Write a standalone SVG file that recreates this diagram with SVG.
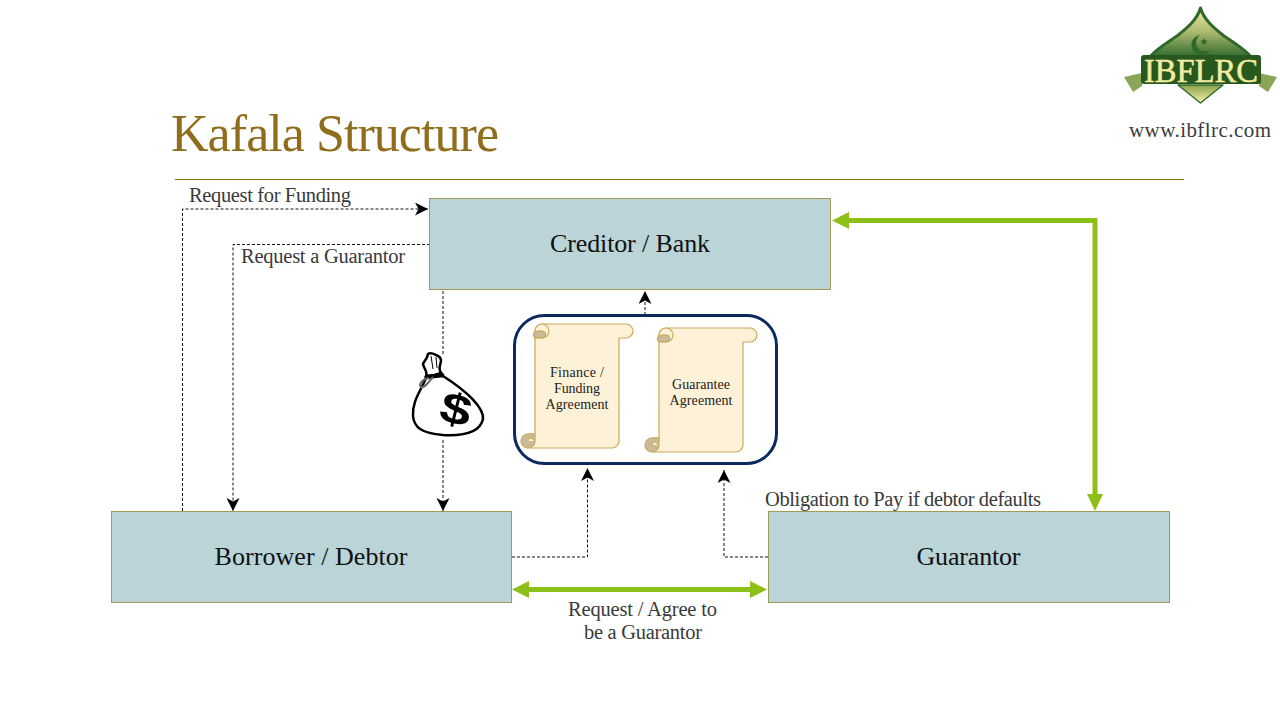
<svg xmlns="http://www.w3.org/2000/svg" xmlns:xlink="http://www.w3.org/1999/xlink" width="1280" height="720" viewBox="0 0 1280 720">
<style>
text{font-family:"Liberation Serif","Times New Roman",serif;fill:#3a3a3a}
.box{fill:#bad4d8;stroke:#a09a55;stroke-width:1}
.nl{font-size:26px;fill:#111;text-anchor:middle}
.cl{font-size:20.500px}
.sl{font-size:14px;fill:#222;text-anchor:middle}
.d{fill:none;stroke:#111;stroke-width:1;stroke-dasharray:3 2}
.g{fill:none;stroke:#8cc016;stroke-width:5}
.gh{fill:#8cc016}
.sc{fill:#fdf2d8;stroke:#c9a85a;stroke-width:1.200;stroke-linejoin:round}
.sd{fill:#c9bb98;stroke:#c9a85a;stroke-width:1.200}
</style>
<defs>
<marker id="a" markerWidth="14" markerHeight="14" refX="13" refY="6.500" orient="auto" markerUnits="userSpaceOnUse"><path d="M0 0L13 6.500L0 13L3.500 6.500Z" fill="#000"/></marker>
<linearGradient id="lg1" x1="0" y1="0" x2="0" y2="1"><stop offset="0" stop-color="#f2e9a0"/><stop offset=".5" stop-color="#a9b86e"/><stop offset="1" stop-color="#2f6a2c"/></linearGradient>
<linearGradient id="lg2" x1="0" y1="0" x2="0" y2="1"><stop offset="0" stop-color="#8aa24c"/><stop offset="1" stop-color="#f6f0a8"/></linearGradient>
<g id="scroll">
<path class="sc" d="M14 7A7 7 0 0 1 21 0H105A7 7 0 0 1 105 14H98V117A7 7 0 0 1 91 124H7V110H14Z"/>
<path class="sc" d="M14 7A7 7 0 0 1 21 0A7 7 0 0 1 21 14H14Z"/>
<path class="sd" d="M14 13.500A7 4 0 0 1 21 7A3.500 3.500 0 0 1 21 14Z"/>
<path class="sd" d="M14 110H7A7 7 0 0 0 7 124A7 7 0 0 0 14 117Z"/>
<path d="M7 117A3 3 0 0 1 10 114L14 117" fill="#fdf2d8" stroke="#c9a85a" stroke-width="1"/>
</g>
</defs>

<g id="title">
<text x="171" y="151" font-size="52" textLength="328" lengthAdjust="spacing" style="fill:#8f6d1a">Kafala Structure</text>
<path d="M175 179.500H1184" stroke="#8f7a10" stroke-width="1"/>
</g>

<g id="logo">
<path d="M1200.500 8C1204 20 1214 28 1224 36C1236 44 1246 50 1251 57H1150C1155 50 1165 44 1177 36C1187 28 1197 20 1200.500 8Z" fill="url(#lg1)" stroke="#2f6a2c" stroke-width="3" stroke-linejoin="round"/>
<path d="M1124 77L1142 73V86L1133 92Z" fill="#8ba556"/>
<path d="M1277 77L1259 73V86L1268 92Z" fill="#8ba556"/>
<path d="M1178 85H1223L1200.500 103Z" fill="url(#lg2)" stroke="#2f6a2c" stroke-width="1.500" stroke-linejoin="round"/>
<rect x="1141" y="55" width="120" height="29" rx="3" fill="#27591f"/>
<path d="M1200 35A10 10 0 1 0 1210 50A8.500 8.500 0 1 1 1200 35Z" fill="#2f6a2c"/>
<path d="M1204 38l1.100 2.600 2.700.2-2.100 1.700.8 2.600-2.500-1.500-2.300 1.500.7-2.600-2-1.700 2.600-.2Z" fill="#2f6a2c"/>
<text x="1201" y="82" font-size="33" text-anchor="middle" textLength="114" lengthAdjust="spacingAndGlyphs" stroke="#f1eca0" stroke-width=".5" style="fill:#f1eca0">IBFLRC</text>
<text x="1129" y="137" font-size="21" textLength="142" lengthAdjust="spacing" style="fill:#3c3c3c">www.ibflrc.com</text>
</g>

<g id="connectors">
<path class="d" d="M182.500 511V209H428" marker-end="url(#a)"/>
<path class="d" d="M430 244.500H233V511" marker-end="url(#a)"/>
<path class="d" d="M443 291V354"/>
<path class="d" d="M443 440V511" marker-end="url(#a)"/>
<path class="d" d="M645 315V291" marker-end="url(#a)"/>
<path class="d" d="M512 557H587.500V468" marker-end="url(#a)"/>
<path class="d" d="M768 557H724V470" marker-end="url(#a)"/>
<path class="g" d="M848 220.500H1095V495"/>
<path class="gh" d="M832 220.500L849 212V229Z"/>
<path class="gh" d="M1095 511L1087 494H1103Z"/>
<path class="g" d="M528 589.500H752"/>
<path class="gh" d="M512 589.500L529 581V598Z"/>
<path class="gh" d="M767 589.500L750 581V598Z"/>
</g>

<g id="creditor"><rect class="box" x="429.500" y="198.500" width="401" height="91"/><text class="nl" x="630" y="252" textLength="160" lengthAdjust="spacing">Creditor / Bank</text></g>
<g id="borrower"><rect class="box" x="111.500" y="511.500" width="400" height="91"/><text class="nl" x="311" y="565" textLength="193" lengthAdjust="spacing">Borrower / Debtor</text></g>
<g id="guarantor"><rect class="box" x="768.500" y="511.500" width="401" height="91"/><text class="nl" x="968.500" y="565" textLength="104" lengthAdjust="spacing">Guarantor</text></g>

<g id="agreements">
<rect x="514.500" y="315.500" width="262" height="148" rx="30" fill="#fff" stroke="#0b2a5e" stroke-width="3"/>
<g id="finance"><use xlink:href="#scroll" href="#scroll" x="521" y="324"/>
<text class="sl" x="577" y="377" textLength="54">Finance /</text><text class="sl" x="577" y="393" textLength="46">Funding</text><text class="sl" x="577" y="409" textLength="63">Agreement</text></g>
<g id="guarantee"><use xlink:href="#scroll" href="#scroll" x="645" y="328"/>
<text class="sl" x="701" y="389" textLength="58">Guarantee</text><text class="sl" x="701" y="405" textLength="63">Agreement</text></g>
</g>

<g id="moneybag">
<path d="M426 378C420 392 412 402 413 416C414 428 422 433 443 435C462 436 480 433 483 419C484 408 468 392 443 376Z" fill="#fff" stroke="#000" stroke-width="2.500"/>
<path d="M426 376C428 372 424 369 423 364C424 361 427 360 428 354C431 352 434 354 436 355C439 356 441 358 441 361C440 366 438 370 442 374Z" fill="#fff" stroke="#000" stroke-width="2.500"/>
<path d="M431 356L433 369M436 357L437 368" fill="none" stroke="#000" stroke-width="1"/>
<path d="M427 377C434 376 438 374 442 373" fill="none" stroke="#000" stroke-width="3"/>
<path d="M429 378C422 379 418 385 421 387C425 388 428 383 433 377" fill="none" stroke="#666" stroke-width="2"/>
<text x="0" y="15" font-size="43" font-weight="700" text-anchor="middle" transform="translate(456,409) rotate(14) scale(1.300,1)" style="font-family:'Liberation Sans',sans-serif;fill:#000">$</text>
</g>

<g id="labels">
<text class="cl" x="189" y="202" textLength="162" lengthAdjust="spacing">Request for Funding</text>
<text class="cl" x="241" y="263" textLength="164" lengthAdjust="spacing">Request a Guarantor</text>
<text class="cl" x="765" y="506" textLength="276" lengthAdjust="spacing">Obligation to Pay if debtor defaults</text>
<text class="cl" x="568" y="616" textLength="149" lengthAdjust="spacing">Request / Agree to</text>
<text class="cl" x="584" y="639" textLength="118" lengthAdjust="spacing">be a Guarantor</text>
</g>
</svg>
